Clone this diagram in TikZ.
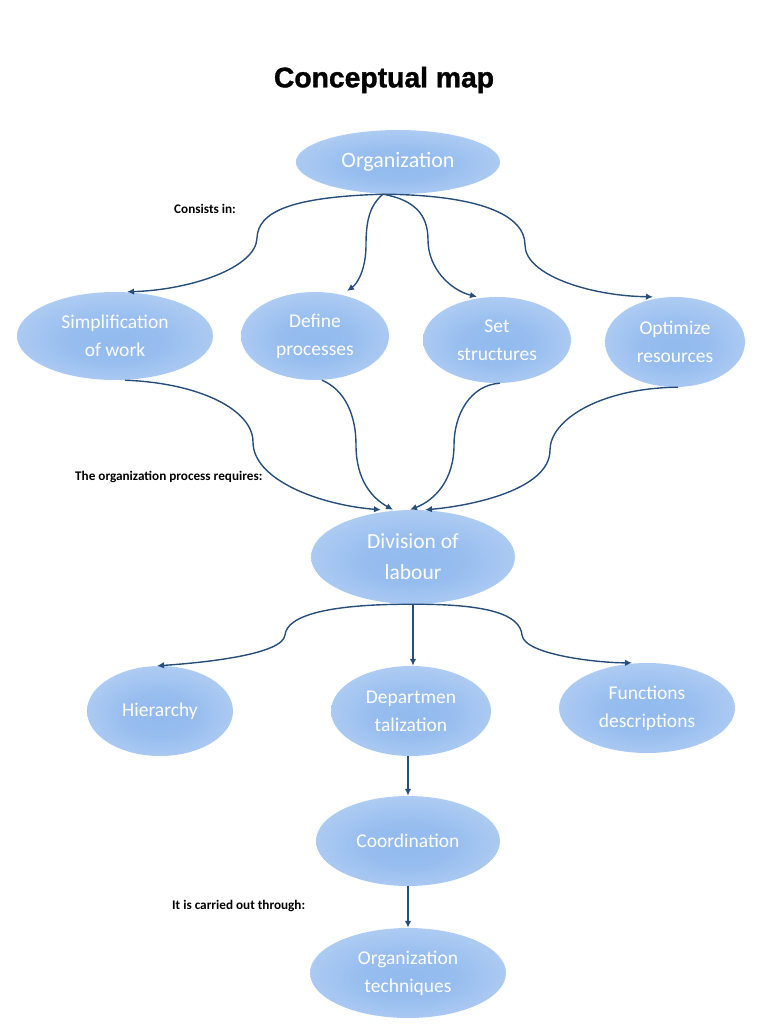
\documentclass[tikz,border=0pt]{standalone}
\usepackage{fontspec}
\setmainfont{Carlito}
\newfontfamily\titlefont{Liberation Sans}[FakeBold=1.2]
\usetikzlibrary{arrows.meta,calc,shapes.geometric}
\definecolor{ecent}{RGB}{146,186,238}
\definecolor{eedge}{RGB}{210,227,249}
\definecolor{arr}{RGB}{38,78,122}
\pgfdeclareradialshading{ellshade}{\pgfpoint{0bp}{-3bp}}{color(0bp)=(ecent); color(12bp)=(ecent!92!eedge); color(50bp)=(eedge)}
\tikzset{
  ell/.style={ellipse, shading=ellshade, draw=none, inner sep=0pt, text=white,
    font=\fontsize{19.5}{28}\selectfont, align=center},
  conn/.style={draw=arr, line width=1.4pt, -{Latex[length=7pt,width=6.5pt]}},
  lbl/.style={anchor=west, font=\bfseries\fontsize{13.2}{15}\selectfont, text=black, inner sep=0pt},
}
\begin{document}
\begin{tikzpicture}[x=1pt,y=-1pt]
\useasboundingbox (0,0) rectangle (768,1024);
\node[font=\titlefont\bfseries\fontsize{28.3}{32}\selectfont] (title) at (384,80) {Conceptual map};

\node[ell, minimum width=204pt, minimum height=64pt, font=\fontsize{22}{28}\selectfont] (org) at (398,162) {Organization};
\node[ell, minimum width=196pt, minimum height=88pt] (simp) at (115,336) {Simplification\\of work};
\node[ell, minimum width=148pt, minimum height=88pt] (def) at (315,336) {Define\\processes};
\node[ell, minimum width=148pt, minimum height=86pt] (set) at (497,340) {Set\\structures};
\node[ell, minimum width=140pt, minimum height=90pt] (opt) at (675,342) {Optimize\\resources};
\node[ell, minimum width=204pt, minimum height=94pt, font=\fontsize{21.5}{31}\selectfont] (div) at (413,557) {Division of\\labour};
\node[ell, minimum width=146pt, minimum height=90pt] (hier) at (160,711) {Hierarchy};
\node[ell, minimum width=160pt, minimum height=90pt] (dep) at (411,711) {Departmen\\talization};
\node[ell, minimum width=176pt, minimum height=90pt] (fun) at (647,708) {Functions\\descriptions};
\node[ell, minimum width=184pt, minimum height=90pt] (coord) at (408,841) {Coordination};
\node[ell, minimum width=196pt, minimum height=90pt] (tech) at (408,973) {Organization\\techniques};

\node[lbl] (l1) at (174,209) {Consists in:};
\node[lbl] (l2) at (75,477) {The organization process requires:};
\node[lbl] (l3) at (172,906) {It is carried out through:};

% Organization fan-out
\draw[conn] ([xshift=-15pt]org.south) .. controls (290,197) and (258,212) .. (257,238)
  .. controls (256,268) and (190,290) .. ([xshift=12pt]simp.north);
\draw[conn] ([xshift=-15pt]org.south) .. controls (370,205) and (366,220) .. (366,245)
  .. controls (366,270) and (357,284) .. ($(def.center)+(32,-45)$);
\draw[conn] ([xshift=-15pt]org.south) .. controls (415,200) and (428,215) .. (428,240)
  .. controls (428,268) and (450,290) .. ([xshift=-20pt]set.north);
\draw[conn] ([xshift=-15pt]org.south) .. controls (480,195) and (525,215) .. (525,245)
  .. controls (525,275) and (590,296) .. ([xshift=-22pt]opt.north);

% Into Division of labour
\draw[conn] ([xshift=10pt]simp.south) .. controls (200,383) and (253,410) .. (253,442)
  .. controls (253,480) and (320,505) .. ([xshift=-32pt]div.north);
\draw[conn] ([xshift=7pt]def.south) .. controls (345,390) and (356,415) .. (356,445)
  .. controls (356,480) and (372,498) .. ([xshift=-20pt]div.north);
\draw[conn] ([xshift=3pt]set.south) .. controls (470,385) and (454,415) .. (454,445)
  .. controls (454,480) and (435,500) .. ([xshift=-3pt]div.north);
\draw[conn] ([xshift=3pt]opt.south) .. controls (600,388) and (550,420) .. (550,450)
  .. controls (550,490) and (470,506) .. ([xshift=12pt]div.north);

% Division fan-out
\draw[conn] (div.south) .. controls (330,604) and (287,615) .. (285,635)
  .. controls (283,655) and (200,663) .. ([xshift=-3pt]hier.north);
\draw[conn] (div.south) -- ([xshift=2pt]dep.north);
\draw[conn] (div.south) .. controls (490,604) and (520,615) .. (522,635)
  .. controls (524,655) and (600,663) .. ([xshift=-15pt]fun.north);

\draw[conn] ([xshift=-3pt]dep.south) -- (coord.north);
\draw[conn] (coord.south) -- (tech.north);
\end{tikzpicture}
\end{document}
